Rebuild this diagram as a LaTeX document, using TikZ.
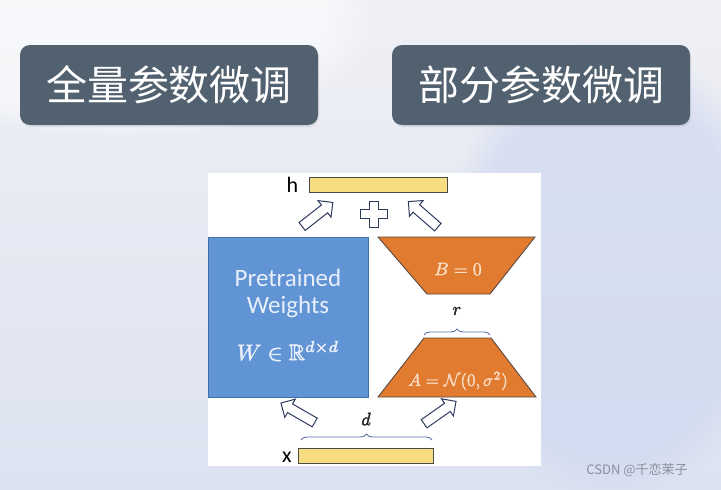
\documentclass[tikz,border=0pt]{standalone}
\usepackage{amsmath,amssymb}
\usepackage{fontspec}
\newfontfamily\cjk{Noto Sans CJK SC}
\newfontfamily\cali{Carlito}
\usetikzlibrary{shapes.arrows,decorations.pathreplacing,shadows,fadings}
\newcommand\heavytxt[1]{\special{pdf:code 2 Tr 0.22 w}#1\special{pdf:code 0 Tr}}
\definecolor{bgtop}{HTML}{EFF0F5}
\definecolor{bgbot}{HTML}{DCE2F0}
\definecolor{glow}{HTML}{CCD6F0}
\definecolor{btnc}{HTML}{526170}
\definecolor{wblue}{HTML}{6094D4}
\definecolor{wblued}{HTML}{3F6EA8}
\definecolor{orng}{HTML}{E07B30}
\definecolor{orngd}{HTML}{5A4A40}
\definecolor{barc}{HTML}{F8DC82}
\definecolor{bard}{HTML}{4A4A4A}
\definecolor{arrd}{HTML}{2E3B5E}
\definecolor{bracec}{HTML}{5C74A8}
\definecolor{lighttxt}{HTML}{E8EFFA}
\definecolor{peach}{HTML}{F9DCC2}
\definecolor{mtxt}{HTML}{222222}
\definecolor{wmc}{HTML}{8A909C}
\tikzset{
  btn/.style={fill=btnc, rounded corners=10pt, minimum width=298pt, minimum height=80pt,
    text=white, font=\cjk\fontsize{41}{41}\selectfont, inner sep=0pt,
    drop shadow={opacity=0.15, shadow xshift=1pt, shadow yshift=-2pt}},
  bar/.style={fill=barc, draw=bard, line width=1pt, inner sep=0pt},
  lbl/.style={font=\cali\fontsize{22}{22}\selectfont, inner sep=0pt},
  wbox/.style={fill=wblue, draw=wblued, line width=1pt, inner sep=0pt},
  wtxt/.style={text=lighttxt, font=\cali\fontsize{25}{25}\selectfont, inner sep=0pt},
  trap/.style={fill=orng, draw=orngd, line width=0.9pt, line join=miter},
  otxt/.style={text=peach, scale=1.8, inner sep=0pt},
  oarrow/.style={single arrow, draw=arrd, fill=white, line width=1pt, inner xsep=0pt,
    inner ysep=4.5pt, minimum height=39pt, single arrow head extend=5.5pt,
    single arrow head indent=0pt},
  plusst/.style={draw=arrd, fill=white, line width=1pt},
  brc/.style={draw=bracec, line width=0.9pt, decorate,
    decoration={brace, amplitude=6pt}},
  mlbl/.style={scale=1.8, inner sep=0pt, text=mtxt},
}
\begin{document}
\begin{tikzpicture}[x=1pt,y=-1pt]
\useasboundingbox (0,0) rectangle (721,490);
% background
\shade[top color=bgtop, bottom color=bgbot] (0,0) rectangle (721,490);
\fill[glow, opacity=0.6, path fading=circle with fuzzy edge 20 percent] (610,270) ellipse (170 and 230);
\fill[white, opacity=0.5, path fading=circle with fuzzy edge 20 percent] (120,20) ellipse (260 and 120);
% buttons
\node[btn] (full) at (169,85) {全量参数微调};
\node[btn] (part) at (541,85) {部分参数微调};
% panel
\fill[white] (208,173) rectangle (541,466);
% h bar
\node[bar, minimum width=138pt, minimum height=15pt] (hbar) at (378,184.5) {};
\node[lbl] (hl) at (292.5,185) {h};
% plus
\coordinate (plus) at (374,214);
\draw[plusst] (plus) ++(-4.5,-13) -- ++(9,0) -- ++(0,8.5) -- ++(9,0) -- ++(0,9) -- ++(-9,0)
  -- ++(0,8.5) -- ++(-9,0) -- ++(0,-8.5) -- ++(-9,0) -- ++(0,-9) -- ++(9,0) -- cycle;
% top arrows
\node[oarrow, rotate=38] (a1) at (315.5,216) {};
\node[oarrow, rotate=139] (a2) at (425,216) {};
% W box
\node[wbox, minimum width=160pt, minimum height=160pt] (W) at (288,317) {};
\node[wtxt] (t1) at (288,278) {Pretrained};
\node[wtxt] (t2) at (288,307) {Weights};
\node[text=lighttxt, scale=2.25, inner sep=0pt] (t3) at (288,351) {\heavytxt{$W\in\mathbb{R}^{d\times d}$}};
% B trapezoid
\draw[trap] (378,237) -- (535,237) -- (490,294) -- (427,294) -- cycle;
\node[otxt] (B) at (458,269) {\heavytxt{$B=0$}};
% r brace
\draw[brc] (424,335) -- (490,335);
\node[mlbl] (r) at (457,311) {\heavytxt{$r$}};
% A trapezoid
\draw[trap] (424,338) -- (491,338) -- (536,397) -- (378,397) -- cycle;
\node[otxt, scale=0.95] (A) at (458,381) {\heavytxt{$A=\mathcal{N}(0,\sigma^2)$}};
% bottom arrows
\node[oarrow, rotate=150] (a3) at (300,414) {};
\node[oarrow, rotate=35] (a4) at (438,414) {};
% d brace
\draw[brc] (301,440) -- (432,440);
\node[mlbl] (d) at (366,419) {\heavytxt{$d$}};
% x bar
\node[bar, minimum width=135pt, minimum height=15pt] (xbar) at (365.5,455.5) {};
\node[lbl] (xl) at (287,457) {x};
% watermark
\node[text=wmc, font=\cjk\fontsize{13}{13}\selectfont, inner sep=0pt] (wm) at (637,470) {CSDN @千恋茉子};
\end{tikzpicture}
\end{document}
